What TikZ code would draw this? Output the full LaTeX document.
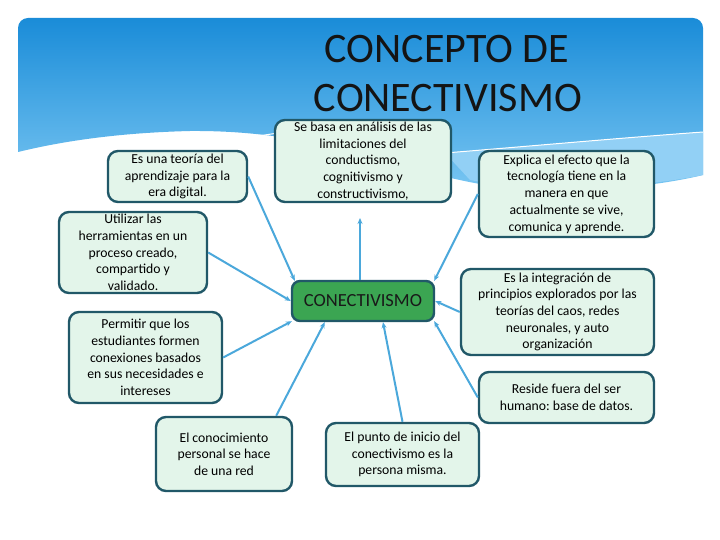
\documentclass[tikz,border=0pt]{standalone}
\usepackage{fontspec}
\setmainfont{Carlito}
\frenchspacing
\usetikzlibrary{calc,arrows.meta}
\definecolor{boxfill}{HTML}{E3F5EA}
\definecolor{boxline}{HTML}{215868}
\definecolor{conn}{HTML}{4BA8DB}
\definecolor{cgreen}{HTML}{3BA552}
\definecolor{bluetop}{HTML}{1A8CD8}
\definecolor{bluebot}{HTML}{7CC8F3}
\definecolor{bandblue}{HTML}{92D0F5}
\tikzset{
  mapbox/.style={draw=boxline, fill=boxfill, line width=2.4pt, rounded corners=10pt,
    inner sep=0pt, align=center, font=\fontsize{13.7}{16.7}\selectfont, text=black},
  centerbox/.style={draw=boxline, fill=cgreen, line width=2.4pt, rounded corners=8pt,
    inner sep=0pt, align=center, font=\fontsize{18.5}{20}\selectfont, text=black!90},
  conline/.style={draw=conn, line width=2pt, -{Stealth[length=6pt,width=5pt]}},
  titletext/.style={font=\fontsize{42}{48}\selectfont, text=black!92, inner sep=0pt, anchor=base}
}
\begin{document}
\begin{tikzpicture}[x=1pt,y=-1pt]
\useasboundingbox (0,0) rectangle (720,540);
\fill[white] (0,0) rectangle (720,540);
% background blue banner
\begin{scope}
  \clip[rounded corners=10pt] (18,18) rectangle (703,260);
  \shade[top color=bluetop, bottom color=bluebot]
    (18,18) -- (703,18) -- (703,175)
    .. controls (650,188) and (560,196) .. (480,184)
    .. controls (390,168) and (320,130) .. (190,131)
    .. controls (110,133) and (55,143) .. (18,152) -- cycle;
  \fill[bandblue]
    (703,132) .. controls (620,138) and (520,147) .. (445,153)
    -- (470,180) .. controls (540,193) and (640,188) .. (703,175) -- cycle;
  \draw[white, line width=1pt] (703,132) .. controls (620,138) and (520,147) .. (445,153);
  \draw[white, line width=1pt] (225,141) -- (278,133);
\end{scope}
% title
\node[titletext] (t1) at (447,63) {CONCEPTO DE};
\node[titletext] (t2) at (448,112) {CONECTIVISMO};
% boxes
\node[mapbox, minimum width=139pt, minimum height=51pt] (b1) at (177.5,176.5)
  {Es una teoría del\\aprendizaje para la\\era digital.};
\node[mapbox, minimum width=148pt, minimum height=81pt] (b2) at (133,252.5)
  {Utilizar las\\herramientas en un\\proceso creado,\\compartido y\\validado.};
\node[mapbox, minimum width=153pt, minimum height=91pt] (b3) at (145.5,357.5)
  {Permitir que los\\estudiantes formen\\conexiones basados\\en sus necesidades e\\intereses};
\node[mapbox, minimum width=136pt, minimum height=74pt] (b4) at (224,454)
  {El conocimiento\\personal se hace\\de una red};
\node[mapbox, minimum width=153pt, minimum height=63pt] (b5) at (402.5,454.5)
  {El punto de inicio del\\conectivismo es la\\persona misma.};
\node[mapbox, minimum width=175pt, minimum height=51pt] (b6) at (566.5,397.5)
  {Reside fuera del ser\\humano: base de datos.};
\node[mapbox, minimum width=193pt, minimum height=86pt] (b7) at (557.5,312)
  {Es la integración de\\principios explorados por las\\teorías del caos, redes\\neuronales, y auto\\organización};
\node[mapbox, minimum width=175pt, minimum height=86pt] (b8) at (566.5,194)
  {Explica el efecto que la\\tecnología tiene en la\\manera en que\\actualmente se vive,\\comunica y aprende.};
\node[mapbox, minimum width=176pt, minimum height=82pt] (b9) at (363,161)
  {Se basa en análisis de las\\limitaciones del\\conductismo,\\cognitivismo y\\constructivismo,};
\node[centerbox, minimum width=142pt, minimum height=40pt] (c) at (363,301) {CONECTIVISMO};
\coordinate (top) at (360,218);
% connectors
\draw[conline] (b1.east) -- ($(c.north west)+(4,1)$);
\draw[conline] (b2.east) -- (c.west);
\draw[conline] (b3.east) -- ($(c.south west)+(1,-1)$);
\draw[conline] ($(b4.north east)+(-17,0)$) -- ($(c.south west)+(34,0)$);
\draw[conline] (b5.north) -- ($(c.south)+(20,0)$);
\draw[conline] (b6.west) -- ($(c.south east)+(-1,-1)$);
\draw[conline] (b7.west) -- (c.east);
\draw[conline] (b8.west) -- ($(c.north east)+(-1,1)$);
\draw[conline] ($(c.north)+(-3,0)$) -- (top);
\end{tikzpicture}
\end{document}
